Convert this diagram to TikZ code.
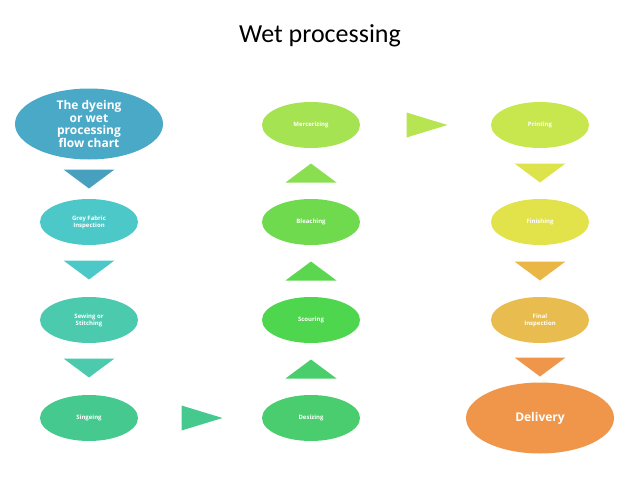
\documentclass[tikz,border=0pt]{standalone}
\usepackage{fontspec}
\setmainfont{Open Sans}
\newfontfamily\titlefont{Carlito}
\usetikzlibrary{shapes.geometric}
\definecolor{cTitle}{HTML}{4BA9C8}
\definecolor{cGrey}{HTML}{4DC8C8}
\definecolor{cSew}{HTML}{4BCAAE}
\definecolor{cSing}{HTML}{46C98F}
\definecolor{cDes}{HTML}{4ACD6E}
\definecolor{cScour}{HTML}{4ED64F}
\definecolor{cBleach}{HTML}{6FDA4E}
\definecolor{cMerc}{HTML}{A6E353}
\definecolor{cPrint}{HTML}{C8E64E}
\definecolor{cFin}{HTML}{E2E24A}
\definecolor{cFinal}{HTML}{E8BC4E}
\definecolor{cDel}{HTML}{F0964A}
\tikzset{
  step/.style={ellipse, fill=#1, text=white, font=\bfseries\fontsize{6}{7}\selectfont,
    align=center, minimum width=98pt, minimum height=46pt, inner sep=0pt},
  big/.style={minimum width=148pt, minimum height=71pt},
  pics/tri/.style={code={\fill[#1] (-25.5pt,9.5pt) -- (25.5pt,9.5pt) -- (0,-9.5pt) -- cycle;}},
  pics/rtri/.style={code={\fill[#1] (-20.5pt,-12.5pt) -- (-20.5pt,12.5pt) -- (20.5pt,0) -- cycle;}}
}
\begin{document}
\begin{tikzpicture}[x=1pt, y=-1pt]
\useasboundingbox (0,0) rectangle (638,479);

\node[font=\titlefont\fontsize{26}{31}\selectfont] (title) at (320,36) {Wet processing};

% first column
\node[step=cTitle, big, font=\bfseries\fontsize{12}{12.5}\selectfont] (flow) at (89,124) {The dyeing\\or wet\\processing\\flow chart};
\node[step=cGrey] (grey) at (89,222) {Grey Fabric\\Inspection};
\node[step=cSew] (sew) at (89,320) {Sewing or\\Stitching};
\node[step=cSing] (sing) at (89,418) {Singeing};

% second column
\node[step=cDes] (desize) at (311,418) {Desizing};
\node[step=cScour] (scour) at (311,320) {Scouring};
\node[step=cBleach] (bleach) at (311,222) {Bleaching};
\node[step=cMerc] (merc) at (311,125) {Mercerizing};

% third column
\node[step=cPrint] (print) at (540,125) {Printing};
\node[step=cFin] (finish) at (540,222) {Finishing};
\node[step=cFinal] (final) at (540,320) {Final\\Inspection};
\node[step=cDel, big, font=\bfseries\fontsize{12}{13}\selectfont] (deliv) at (540,418) {Delivery};

% arrows
\pic at (89,179) {tri=cTitle!95!black};
\pic at (89,270) {tri=cGrey};
\pic at (89,368) {tri=cSew};
\pic at (202,418) {rtri=cSing};
\pic[rotate=180] at (311,369) {tri=cDes!90!cScour};
\pic[rotate=180] at (311,271) {tri=cScour!60!cBleach};
\pic[rotate=180] at (311,173) {tri=cBleach!50!cMerc};
\pic at (427,125) {rtri=cMerc!50!cPrint};
\pic at (540,173) {tri=cFin!80!cPrint};
\pic at (540,271) {tri=cFinal!90!orange};
\pic at (540,367) {tri=cDel};
\end{tikzpicture}
\end{document}
